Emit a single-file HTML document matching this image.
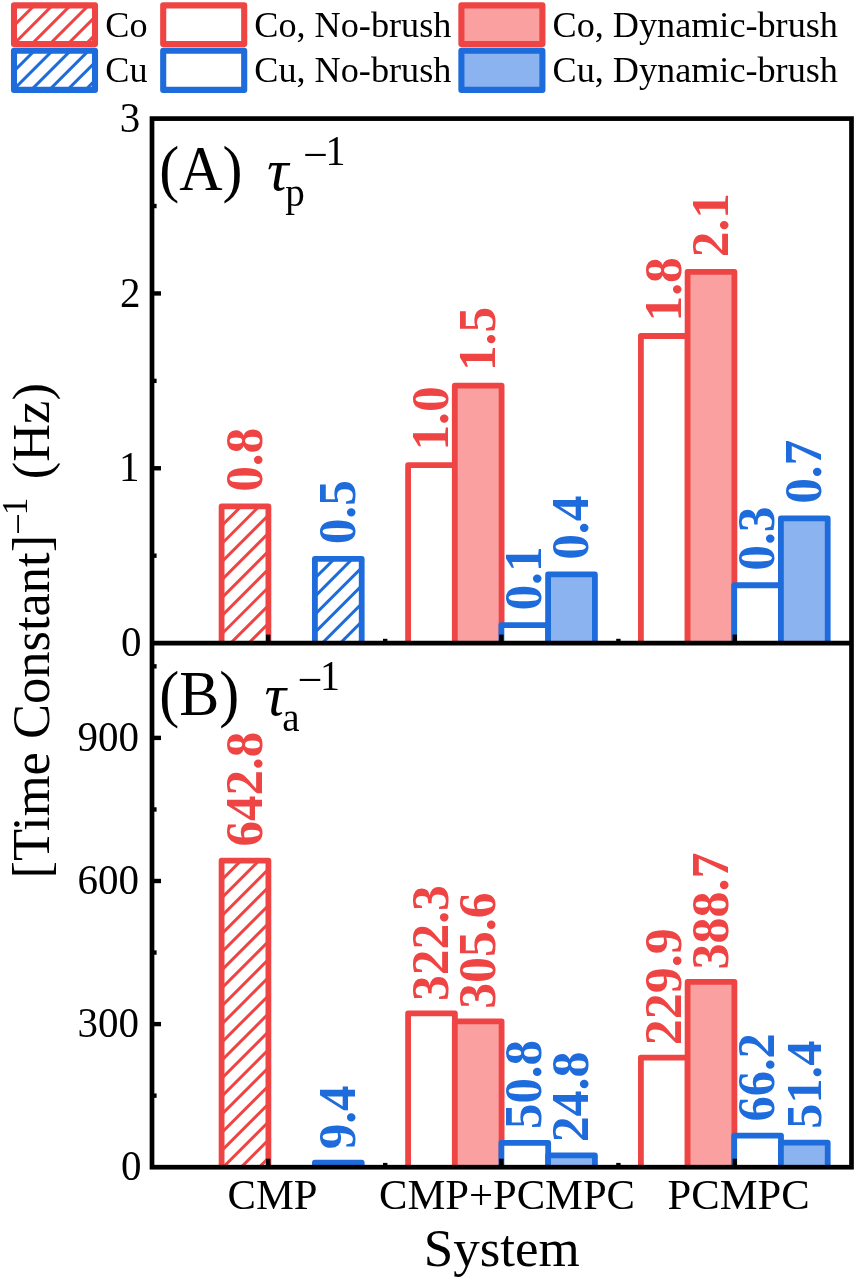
<!DOCTYPE html>
<html lang="en"><head><meta charset="utf-8"><title>Time constant chart</title>
<style>html,body{margin:0;padding:0;background:#fff}svg{display:block}text{font-family:"Liberation Serif", "DejaVu Serif", serif}</style>
</head><body>
<svg width="855" height="1280" viewBox="0 0 855 1280">
<rect width="855" height="1280" fill="#fff"/>
<clipPath id="c1"><rect x="14.00" y="5.40" width="81.00" height="38.70"/></clipPath>
<g clip-path="url(#c1)" stroke="#EF4444" stroke-width="3.0">
<line x1="9.00" y1="-5.40" x2="100.00" y2="-96.40"/>
<line x1="9.00" y1="12.65" x2="100.00" y2="-78.35"/>
<line x1="9.00" y1="30.70" x2="100.00" y2="-60.30"/>
<line x1="9.00" y1="48.75" x2="100.00" y2="-42.25"/>
<line x1="9.00" y1="66.80" x2="100.00" y2="-24.20"/>
<line x1="9.00" y1="84.85" x2="100.00" y2="-6.15"/>
<line x1="9.00" y1="102.90" x2="100.00" y2="11.90"/>
<line x1="9.00" y1="120.95" x2="100.00" y2="29.95"/>
</g>
<rect x="14.0" y="5.4" width="81.0" height="38.7" fill="none" stroke="#EF4444" stroke-width="6.1" stroke-linejoin="round"/>
<rect x="163.2" y="5.4" width="81.0" height="38.7" fill="#fff" stroke="#EF4444" stroke-width="6.1" stroke-linejoin="round"/>
<rect x="461.4" y="5.4" width="81.0" height="38.7" fill="#FAA0A0" stroke="#EF4444" stroke-width="6.1" stroke-linejoin="round"/>
<clipPath id="c2"><rect x="14.00" y="50.80" width="81.00" height="39.10"/></clipPath>
<g clip-path="url(#c2)" stroke="#1E6BDB" stroke-width="3.0">
<line x1="9.00" y1="40.00" x2="100.00" y2="-51.00"/>
<line x1="9.00" y1="58.05" x2="100.00" y2="-32.95"/>
<line x1="9.00" y1="76.10" x2="100.00" y2="-14.90"/>
<line x1="9.00" y1="94.15" x2="100.00" y2="3.15"/>
<line x1="9.00" y1="112.20" x2="100.00" y2="21.20"/>
<line x1="9.00" y1="130.25" x2="100.00" y2="39.25"/>
<line x1="9.00" y1="148.30" x2="100.00" y2="57.30"/>
<line x1="9.00" y1="166.35" x2="100.00" y2="75.35"/>
</g>
<rect x="14.0" y="50.8" width="81.0" height="39.1" fill="none" stroke="#1E6BDB" stroke-width="6.1" stroke-linejoin="round"/>
<rect x="163.2" y="50.8" width="81.0" height="39.1" fill="#fff" stroke="#1E6BDB" stroke-width="6.1" stroke-linejoin="round"/>
<rect x="461.4" y="50.8" width="81.0" height="39.1" fill="#8AB3F0" stroke="#1E6BDB" stroke-width="6.1" stroke-linejoin="round"/>
<text x="105.3" y="37" font-size="36.2">Co</text>
<text x="254.3" y="37" font-size="36.2">Co, No-brush</text>
<text x="552.5" y="37" font-size="36.2">Co, Dynamic-brush</text>
<text x="105.3" y="81.7" font-size="36.2">Cu</text>
<text x="254.3" y="81.7" font-size="36.2">Cu, No-brush</text>
<text x="552.5" y="81.7" font-size="36.2">Cu, Dynamic-brush</text>
<clipPath id="pa"><rect x="0" y="0" width="855" height="644.9"/></clipPath>
<clipPath id="pb"><rect x="0" y="645" width="855" height="524"/></clipPath>
<g clip-path="url(#pa)">
<rect x="221.60" y="506.45" width="46.8" height="139.25" fill="#fff"/>
<clipPath id="c3"><rect x="221.60" y="506.45" width="46.80" height="139.25"/></clipPath>
<g clip-path="url(#c3)" stroke="#EF4444" stroke-width="3.0">
<line x1="216.60" y1="494.75" x2="273.40" y2="437.95"/>
<line x1="216.60" y1="512.80" x2="273.40" y2="456.00"/>
<line x1="216.60" y1="530.85" x2="273.40" y2="474.05"/>
<line x1="216.60" y1="548.90" x2="273.40" y2="492.10"/>
<line x1="216.60" y1="566.95" x2="273.40" y2="510.15"/>
<line x1="216.60" y1="585.00" x2="273.40" y2="528.20"/>
<line x1="216.60" y1="603.05" x2="273.40" y2="546.25"/>
<line x1="216.60" y1="621.10" x2="273.40" y2="564.30"/>
<line x1="216.60" y1="639.15" x2="273.40" y2="582.35"/>
<line x1="216.60" y1="657.20" x2="273.40" y2="600.40"/>
<line x1="216.60" y1="675.25" x2="273.40" y2="618.45"/>
<line x1="216.60" y1="693.30" x2="273.40" y2="636.50"/>
</g>
<rect x="221.60" y="506.45" width="46.8" height="139.25" fill="none" stroke="#EF4444" stroke-width="5.8" stroke-linejoin="round"/>
<rect x="314.90" y="558.91" width="46.8" height="86.79" fill="#fff"/>
<clipPath id="c4"><rect x="314.90" y="558.91" width="46.80" height="86.79"/></clipPath>
<g clip-path="url(#c4)" stroke="#1E6BDB" stroke-width="3.0">
<line x1="309.90" y1="547.21" x2="366.70" y2="490.41"/>
<line x1="309.90" y1="565.26" x2="366.70" y2="508.46"/>
<line x1="309.90" y1="583.31" x2="366.70" y2="526.51"/>
<line x1="309.90" y1="601.36" x2="366.70" y2="544.56"/>
<line x1="309.90" y1="619.41" x2="366.70" y2="562.61"/>
<line x1="309.90" y1="637.46" x2="366.70" y2="580.66"/>
<line x1="309.90" y1="655.51" x2="366.70" y2="598.71"/>
<line x1="309.90" y1="673.56" x2="366.70" y2="616.76"/>
<line x1="309.90" y1="691.61" x2="366.70" y2="634.81"/>
</g>
<rect x="314.90" y="558.91" width="46.8" height="86.79" fill="none" stroke="#1E6BDB" stroke-width="5.8" stroke-linejoin="round"/>
<rect x="408.10" y="465.14" width="46.8" height="180.56" fill="#fff" stroke="#EF4444" stroke-width="5.8" stroke-linejoin="round"/>
<rect x="454.80" y="385.66" width="46.8" height="260.04" fill="#FAA0A0" stroke="#EF4444" stroke-width="5.8" stroke-linejoin="round"/>
<rect x="501.40" y="625.14" width="46.8" height="20.56" fill="#fff" stroke="#1E6BDB" stroke-width="5.8" stroke-linejoin="round"/>
<rect x="548.10" y="574.42" width="46.8" height="71.28" fill="#8AB3F0" stroke="#1E6BDB" stroke-width="5.8" stroke-linejoin="round"/>
<rect x="640.90" y="335.98" width="46.8" height="309.72" fill="#fff" stroke="#EF4444" stroke-width="5.8" stroke-linejoin="round"/>
<rect x="687.60" y="271.84" width="46.8" height="373.86" fill="#FAA0A0" stroke="#EF4444" stroke-width="5.8" stroke-linejoin="round"/>
<rect x="734.20" y="585.23" width="46.8" height="60.47" fill="#fff" stroke="#1E6BDB" stroke-width="5.8" stroke-linejoin="round"/>
<rect x="780.90" y="518.47" width="46.8" height="127.23" fill="#8AB3F0" stroke="#1E6BDB" stroke-width="5.8" stroke-linejoin="round"/>
</g>
<text transform="translate(261.60,491.85) rotate(-90) scale(1,1.025)" font-size="51.3" font-weight="bold" fill="#EF4444">0.8</text>
<text transform="translate(354.90,544.31) rotate(-90) scale(1,1.025)" font-size="51.3" font-weight="bold" fill="#1E6BDB">0.5</text>
<text transform="translate(448.10,450.54) rotate(-90) scale(1,1.025)" font-size="51.3" font-weight="bold" fill="#EF4444">1.0</text>
<text transform="translate(494.80,371.06) rotate(-90) scale(1,1.025)" font-size="51.3" font-weight="bold" fill="#EF4444">1.5</text>
<text transform="translate(541.40,610.54) rotate(-90) scale(1,1.025)" font-size="51.3" font-weight="bold" fill="#1E6BDB">0.1</text>
<text transform="translate(588.10,559.82) rotate(-90) scale(1,1.025)" font-size="51.3" font-weight="bold" fill="#1E6BDB">0.4</text>
<text transform="translate(680.90,321.38) rotate(-90) scale(1,1.025)" font-size="51.3" font-weight="bold" fill="#EF4444">1.8</text>
<text transform="translate(727.60,257.24) rotate(-90) scale(1,1.025)" font-size="51.3" font-weight="bold" fill="#EF4444">2.1</text>
<text transform="translate(774.20,570.63) rotate(-90) scale(1,1.025)" font-size="51.3" font-weight="bold" fill="#1E6BDB">0.3</text>
<text transform="translate(820.90,503.87) rotate(-90) scale(1,1.025)" font-size="51.3" font-weight="bold" fill="#1E6BDB">0.7</text>
<g clip-path="url(#pb)">
<rect x="221.60" y="860.58" width="46.8" height="309.22" fill="#fff"/>
<clipPath id="c5"><rect x="221.60" y="860.58" width="46.80" height="309.22"/></clipPath>
<g clip-path="url(#c5)" stroke="#EF4444" stroke-width="3.0">
<line x1="216.60" y1="848.88" x2="273.40" y2="792.08"/>
<line x1="216.60" y1="866.93" x2="273.40" y2="810.13"/>
<line x1="216.60" y1="884.98" x2="273.40" y2="828.18"/>
<line x1="216.60" y1="903.03" x2="273.40" y2="846.23"/>
<line x1="216.60" y1="921.08" x2="273.40" y2="864.28"/>
<line x1="216.60" y1="939.13" x2="273.40" y2="882.33"/>
<line x1="216.60" y1="957.18" x2="273.40" y2="900.38"/>
<line x1="216.60" y1="975.23" x2="273.40" y2="918.43"/>
<line x1="216.60" y1="993.28" x2="273.40" y2="936.48"/>
<line x1="216.60" y1="1011.33" x2="273.40" y2="954.53"/>
<line x1="216.60" y1="1029.38" x2="273.40" y2="972.58"/>
<line x1="216.60" y1="1047.43" x2="273.40" y2="990.63"/>
<line x1="216.60" y1="1065.48" x2="273.40" y2="1008.68"/>
<line x1="216.60" y1="1083.53" x2="273.40" y2="1026.73"/>
<line x1="216.60" y1="1101.58" x2="273.40" y2="1044.78"/>
<line x1="216.60" y1="1119.63" x2="273.40" y2="1062.83"/>
<line x1="216.60" y1="1137.68" x2="273.40" y2="1080.88"/>
<line x1="216.60" y1="1155.73" x2="273.40" y2="1098.93"/>
<line x1="216.60" y1="1173.78" x2="273.40" y2="1116.98"/>
<line x1="216.60" y1="1191.83" x2="273.40" y2="1135.03"/>
<line x1="216.60" y1="1209.88" x2="273.40" y2="1153.08"/>
</g>
<rect x="221.60" y="860.58" width="46.8" height="309.22" fill="none" stroke="#EF4444" stroke-width="5.8" stroke-linejoin="round"/>
<rect x="314.90" y="1162.72" width="46.8" height="7.08" fill="#fff"/>
<clipPath id="c6"><rect x="314.90" y="1162.72" width="46.80" height="7.08"/></clipPath>
<g clip-path="url(#c6)" stroke="#1E6BDB" stroke-width="3.0">
<line x1="309.90" y1="1151.02" x2="366.70" y2="1094.22"/>
<line x1="309.90" y1="1169.07" x2="366.70" y2="1112.27"/>
<line x1="309.90" y1="1187.12" x2="366.70" y2="1130.32"/>
<line x1="309.90" y1="1205.17" x2="366.70" y2="1148.37"/>
<line x1="309.90" y1="1223.22" x2="366.70" y2="1166.42"/>
</g>
<rect x="314.90" y="1162.72" width="46.8" height="7.08" fill="none" stroke="#1E6BDB" stroke-width="5.8" stroke-linejoin="round"/>
<rect x="408.10" y="1013.46" width="46.8" height="156.34" fill="#fff" stroke="#EF4444" stroke-width="5.8" stroke-linejoin="round"/>
<rect x="454.80" y="1021.43" width="46.8" height="148.37" fill="#FAA0A0" stroke="#EF4444" stroke-width="5.8" stroke-linejoin="round"/>
<rect x="501.40" y="1142.97" width="46.8" height="26.83" fill="#fff" stroke="#1E6BDB" stroke-width="5.8" stroke-linejoin="round"/>
<rect x="548.10" y="1155.37" width="46.8" height="14.43" fill="#8AB3F0" stroke="#1E6BDB" stroke-width="5.8" stroke-linejoin="round"/>
<rect x="640.90" y="1057.54" width="46.8" height="112.26" fill="#fff" stroke="#EF4444" stroke-width="5.8" stroke-linejoin="round"/>
<rect x="687.60" y="981.79" width="46.8" height="188.01" fill="#FAA0A0" stroke="#EF4444" stroke-width="5.8" stroke-linejoin="round"/>
<rect x="734.20" y="1135.62" width="46.8" height="34.18" fill="#fff" stroke="#1E6BDB" stroke-width="5.8" stroke-linejoin="round"/>
<rect x="780.90" y="1142.68" width="46.8" height="27.12" fill="#8AB3F0" stroke="#1E6BDB" stroke-width="5.8" stroke-linejoin="round"/>
</g>
<text transform="translate(261.60,846.48) rotate(-90) scale(1,1.025)" font-size="51.0" font-weight="bold" fill="#EF4444">642.8</text>
<text transform="translate(354.90,1149.22) rotate(-90) scale(1,1.025)" font-size="51.0" font-weight="bold" fill="#1E6BDB">9.4</text>
<text transform="translate(448.10,1001.06) rotate(-90) scale(1,1.025)" font-size="51.5" font-weight="bold" fill="#EF4444">322.3</text>
<text transform="translate(494.80,1008.83) rotate(-90) scale(1,1.025)" font-size="51.8" font-weight="bold" fill="#EF4444">305.6</text>
<text transform="translate(541.40,1128.97) rotate(-90) scale(1,1.025)" font-size="50.8" font-weight="bold" fill="#1E6BDB">50.8</text>
<text transform="translate(588.10,1142.37) rotate(-90) scale(1,1.025)" font-size="52.0" font-weight="bold" fill="#1E6BDB">24.8</text>
<text transform="translate(680.90,1045.24) rotate(-90) scale(1,1.025)" font-size="52.0" font-weight="bold" fill="#EF4444">229.9</text>
<text transform="translate(727.60,969.49) rotate(-90) scale(1,1.025)" font-size="52.0" font-weight="bold" fill="#EF4444">388.7</text>
<text transform="translate(774.20,1121.62) rotate(-90) scale(1,1.025)" font-size="50.6" font-weight="bold" fill="#1E6BDB">66.2</text>
<text transform="translate(820.90,1128.68) rotate(-90) scale(1,1.025)" font-size="50.3" font-weight="bold" fill="#1E6BDB">51.4</text>
<g stroke="#000" stroke-width="4.7" fill="none" stroke-linecap="butt">
<rect x="152.0" y="118.6" width="699.5" height="1048.60"/>
<line x1="152.0" y1="643.1" x2="851.5" y2="643.1"/>
</g>
<g stroke="#000" stroke-width="4.4">
<line x1="152.0" y1="468.27" x2="161" y2="468.27"/>
<line x1="152.0" y1="293.44" x2="161" y2="293.44"/>
<line x1="152.0" y1="555.69" x2="156.6" y2="555.69"/>
<line x1="152.0" y1="380.86" x2="156.6" y2="380.86"/>
<line x1="152.0" y1="206.02" x2="156.6" y2="206.02"/>
<line x1="152.0" y1="1024.10" x2="161" y2="1024.10"/>
<line x1="152.0" y1="881.00" x2="161" y2="881.00"/>
<line x1="152.0" y1="737.90" x2="161" y2="737.90"/>
<line x1="152.0" y1="1095.65" x2="156.6" y2="1095.65"/>
<line x1="152.0" y1="952.55" x2="156.6" y2="952.55"/>
<line x1="152.0" y1="809.45" x2="156.6" y2="809.45"/>
<line x1="152.0" y1="666.35" x2="156.6" y2="666.35"/>
<line x1="268.2" y1="643.1" x2="268.2" y2="634.6"/>
<line x1="501.4" y1="643.1" x2="501.4" y2="634.6"/>
<line x1="734.8" y1="643.1" x2="734.8" y2="634.6"/>
<line x1="385.2" y1="643.1" x2="385.2" y2="638.8000000000001"/>
<line x1="618.4" y1="643.1" x2="618.4" y2="638.8000000000001"/>
<line x1="268.2" y1="1167.2" x2="268.2" y2="1158.7"/>
<line x1="501.4" y1="1167.2" x2="501.4" y2="1158.7"/>
<line x1="734.8" y1="1167.2" x2="734.8" y2="1158.7"/>
<line x1="385.2" y1="1167.2" x2="385.2" y2="1162.9"/>
<line x1="618.4" y1="1167.2" x2="618.4" y2="1162.9"/>
</g>
<g font-size="41" text-anchor="end">
<text transform="translate(141.6,656.30) scale(1,1.04)">0</text>
<text transform="translate(139.6,481.47) scale(1,1.04)">1</text>
<text transform="translate(140.6,306.64) scale(1,1.04)">2</text>
<text transform="translate(140.2,131.81) scale(1,1.04)">3</text>
<text transform="translate(141.6,1180.40) scale(1,1.04)">0</text>
<text transform="translate(139,1037.30) scale(1,1.04)">300</text>
<text transform="translate(139,894.20) scale(1,1.04)">600</text>
<text transform="translate(139,751.10) scale(1,1.04)">900</text>
</g>
<g font-size="42.6" text-anchor="middle">
<text x="272.5" y="1209">CMP</text>
<text x="507" y="1209">CMP+PCMPC</text>
<text x="738.6" y="1209">PCMPC</text>
</g>
<text x="501.7" y="1265.9" font-size="53" text-anchor="middle">System</text>
<g transform="translate(48.7,0)">
<text transform="translate(0,878.6) rotate(-90)" font-size="52.5">[Time Constant]</text>
<text transform="translate(-22,532.7) rotate(-90)" font-size="35">–1</text>
<text transform="translate(0,479.3) rotate(-90)" font-size="52.5">(Hz)</text>
</g>
<text transform="translate(159.3,190.3) scale(1,1.04)" font-size="60">(A)</text>
<text x="267.0" y="190" font-size="60" font-style="italic">τ</text>
<text x="285.3" y="206" font-size="39">p</text>
<text transform="translate(305.5,165.2) scale(1,1.04)" font-size="40">–1</text>
<text transform="translate(159.3,714.8) scale(1,1.04)" font-size="60">(B)</text>
<text x="264.5" y="714.5" font-size="60" font-style="italic">τ</text>
<text x="282.3" y="730.5" font-size="39">a</text>
<text transform="translate(300.0,689.7) scale(1,1.04)" font-size="40">–1</text>
</svg>
</body></html>
